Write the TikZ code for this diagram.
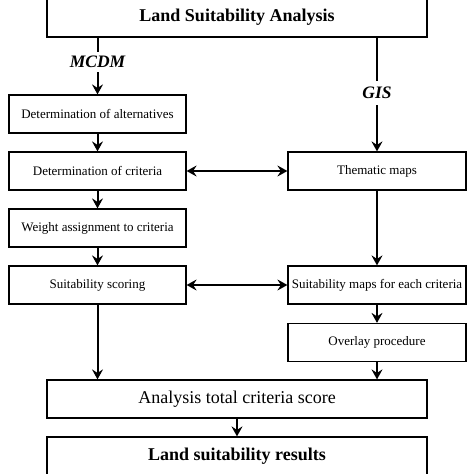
\documentclass[tikz,border=0pt]{standalone}
\usepackage{fontspec}
\setmainfont{Liberation Serif}
\usepackage{xcolor}
\usepackage{tikz}
\usetikzlibrary{positioning,arrows.meta}

\begin{document}
\begin{tikzpicture}[x=1pt, y=-1pt,
    box/.style={draw, line width=1.2pt, minimum width=177pt, minimum height=38pt, inner sep=0pt, font=\fontsize{13}{15}\selectfont},
    bigbox/.style={box, minimum width=380pt, font=\fontsize{18}{21}\selectfont},
    tag/.style={inner sep=4pt, font=\fontsize{17.5}{20}\selectfont\bfseries\itshape},
    arrow/.style={line width=2pt, -{Stealth[length=10pt, width=11pt, inset=3.5pt]}},
    twoway/.style={line width=2pt, {Stealth[length=10pt, width=11pt, inset=3.5pt]}-{Stealth[length=10pt, width=11pt, inset=3.5pt]}}]

      \useasboundingbox (0,0) rectangle (474,474);

      \coordinate (T) at (237, 17.5);
      \coordinate (L1) at (97.5, 114);
      \coordinate (L2) at (97.5, 171);
      \coordinate (L3) at (97.5, 228);
      \coordinate (L4) at (97.5, 285);

      \coordinate (R1) at (377, 171);
      \coordinate (R2) at (377, 285);
      \coordinate (R3) at (377, 342.5);

      \coordinate (S) at (237, 399);
      \coordinate (E) at (237, 456.5);

      \node [bigbox, font=\fontsize{18}{21}\selectfont\bfseries, minimum height=39pt] (top) at (T) {Land Suitability Analysis};

      \node [box] (alter) at (L1) {Determination of alternatives};
      \node [box] (crit) at (L2) {Determination of criteria};
      \node [box] (weight) at (L3) {Weight assignment to criteria};
      \node [box] (score) at (L4) {Suitability scoring};

      \node [box, minimum width=178pt] (thema) at (R1) {Thematic maps};
      \node [box, minimum width=178pt] (suitmap) at (R2) {Suitability maps for each criteria};
      \node [box, minimum width=178pt] (overlay) at (R3) {Overlay procedure};

      \node [bigbox] (total) at (S) {Analysis total criteria score};
      \node [bigbox, font=\fontsize{18}{21}\selectfont\bfseries, minimum height=39pt] (result) at (E) {Land suitability results};

      \node [tag] (mcdm) at (97.5, 62) {MCDM};
      \node [tag, inner sep=6pt] (gis) at (377, 93) {GIS};

      \draw [line width=2pt] (top.south -| mcdm) -- (mcdm);
      \draw [arrow] (mcdm) -- (alter);
      \draw [line width=2pt] (top.south -| gis) -- (gis);
      \draw [arrow] (gis) -- (thema);

      \draw [arrow] (alter) -- (crit);
      \draw [arrow] (crit) -- (weight);
      \draw [arrow] (weight) -- (score);
      \draw [arrow] (score) -- (score |- total.north);

      \draw [arrow] (thema) -- (suitmap);
      \draw [arrow] (suitmap) -- (overlay);
      \draw [arrow] (overlay) -- (overlay |- total.north);

      \draw [twoway] (crit) -- (thema);
      \draw [twoway] (score) -- (suitmap);

      \draw [arrow] (total) -- (result);
    \end{tikzpicture}
\end{document}
